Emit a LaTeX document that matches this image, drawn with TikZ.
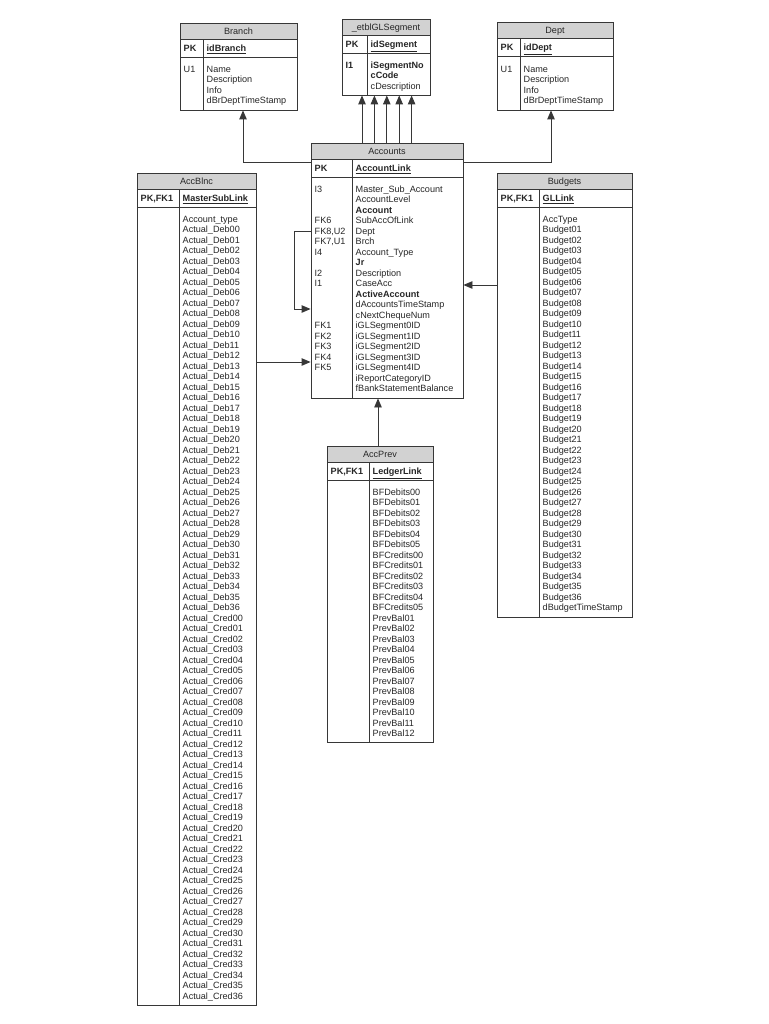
\documentclass[tikz,border=0pt]{standalone}
\usepackage{fontspec}
\setmainfont{Liberation Sans}
\usetikzlibrary{arrows.meta,fit}
\definecolor{titlegray}{RGB}{210,210,210}
\definecolor{linec}{RGB}{55,55,55}
\tikzset{
  line/.style={draw=linec, line width=0.8pt},
  boxline/.style={draw=linec, line width=0.9pt},
  txt/.style={inner sep=0pt, font=\fontsize{9.1}{10.5}\selectfont, text=black!85},
  fld/.style={txt, anchor=base west},
  ttl/.style={txt, anchor=base},
  arr/.style={draw=linec, line width=0.9pt, -{Triangle[length=9pt,width=7.5pt]}},
}
% #1 name #2 left #3 top #4 right #5 bottom #6 divider #7 title #8 pk label #9 pk field
\newcommand\ertable[9]{%
  \fill[titlegray] (#2,#3) rectangle (#4,#3+16.5);
  \draw[line] (#2,#3+16.5) -- (#4,#3+16.5);
  \draw[line, line width=1.1pt] (#2,#3+34.5) -- (#4,#3+34.5);
  \draw[line] (#6,#3+16.5) -- (#6,#5);
  \node[fit={(#2,#3) (#4,#5)}, inner sep=0pt, boxline] (#1) {};
  \node[ttl] (#1-title) at ({(#2+#4)/2},#3+11.8) {#7};
  \node[fld] (#1-pk) at (#2+3.5,#3+28.8) {\textbf{#8}};
  \node[fld] (#1-pkf) at (#6+3.5,#3+28.8) {\textbf{\underline{#9}}};
}
\begin{document}
\begin{tikzpicture}[x=1pt,y=-1pt]
\useasboundingbox[fill=white] (0,0) rectangle (768,1024);

% ---------- Branch ----------
\ertable{branch}{180}{23}{297}{110}{203}{Branch}{PK}{idBranch}
\node[fld] (branch-k0) at (183.5,72.3) {U1};
\foreach \t [count=\i from 0] in {Name,Description,Info,dBrDeptTimeStamp}
  \node[fld] (branch-f\i) at (206.5,{72.3+10.5*\i}) {\t};

% ---------- _etblGLSegment ----------
\ertable{gls}{342}{19}{430}{95}{367}{\_etblGLSegment}{PK}{idSegment}
\node[fld] (gls-k0) at (345.5,68.3) {\textbf{I1}};
\node[fld] (gls-f0) at (370.5,68.3) {\textbf{iSegmentNo}};
\node[fld] (gls-f1) at (370.5,78.8) {\textbf{cCode}};
\node[fld] (gls-f2) at (370.5,89.3) {cDescription};

% ---------- Dept ----------
\ertable{dept}{497}{22}{613}{110}{520}{Dept}{PK}{idDept}
\node[fld] (dept-k0) at (500.5,72.3) {U1};
\foreach \t [count=\i from 0] in {Name,Description,Info,dBrDeptTimeStamp}
  \node[fld] (dept-f\i) at (523.5,{72.3+10.5*\i}) {\t};

% ---------- Accounts ----------
\ertable{acc}{311}{143}{463}{398}{352}{Accounts}{PK}{AccountLink}
\foreach \t [count=\i from 0] in {Master\_Sub\_Account,AccountLevel,\textbf{Account},SubAccOfLink,Dept,Brch,Account\_Type,\textbf{Jr},Description,CaseAcc,\textbf{ActiveAccount},dAccountsTimeStamp,cNextChequeNum,iGLSegment0ID,iGLSegment1ID,iGLSegment2ID,iGLSegment3ID,iGLSegment4ID,iReportCategoryID,fBankStatementBalance}
  \node[fld] (acc-f\i) at (355.5,{192.3+10.5*\i}) {\t};
\foreach \r/\k in {0/I3,3/FK6,4/{FK8,U2},5/{FK7,U1},6/I4,8/I2,9/I1,13/FK1,14/FK2,15/FK3,16/FK4,17/FK5}
  \node[fld] (acc-k\r) at (314.5,{192.3+10.5*\r}) {\k};

% ---------- AccBlnc ----------
\ertable{blnc}{137}{173}{256}{1005.5}{179}{AccBlnc}{PK,FK1}{MasterSubLink}
\node[fld] (blnc-f0) at (182.5,222.3) {Account\_type};
\foreach \n in {0,...,36}
  \node[fld] (blnc-d\n) at (182.5,{222.3+10.5*(\n+1)}) {Actual\_Deb\ifnum\n<10 0\fi\n};
\foreach \n in {0,...,36}
  \node[fld] (blnc-c\n) at (182.5,{222.3+10.5*(\n+38)}) {Actual\_Cred\ifnum\n<10 0\fi\n};

% ---------- Budgets ----------
\ertable{budg}{497}{173}{632}{617}{539}{Budgets}{PK,FK1}{GLLink}
\node[fld] (budg-f0) at (542.5,222.3) {AccType};
\foreach \n in {1,...,36}
  \node[fld] (budg-b\n) at (542.5,{222.3+10.5*\n}) {Budget\ifnum\n<10 0\fi\n};
\node[fld] (budg-ts) at (542.5,{222.3+10.5*37}) {dBudgetTimeStamp};

% ---------- AccPrev ----------
\ertable{prev}{327}{446}{433}{742}{369}{AccPrev}{PK,FK1}{LedgerLink}
\foreach \n in {0,...,5}
  \node[fld] (prev-d\n) at (372.5,{495.3+10.5*\n}) {BFDebits0\n};
\foreach \n in {0,...,5}
  \node[fld] (prev-c\n) at (372.5,{495.3+10.5*(\n+6)}) {BFCredits0\n};
\foreach \n in {1,...,12}
  \node[fld] (prev-p\n) at (372.5,{495.3+10.5*(\n+11)}) {PrevBal\ifnum\n<10 0\fi\n};

% ---------- Connectors ----------
\draw[arr] (acc.west |- 0,162) -| (branch.south -| 243,0);
\draw[arr] (acc.east |- 0,162) -| (dept.south -| 551,0);
\foreach \xx in {362,374.4,386.8,399.2,411.6}
  \draw[arr] (acc.north -| \xx,0) -- (gls.south -| \xx,0);
\draw[arr] (acc.west |- 0,231) -- (294,231) |- (acc.west |- 0,309);
\draw[arr] (blnc.east |- 0,362) -- (acc.west |- 0,362);
\draw[arr] (budg.west |- 0,285) -- (acc.east |- 0,285);
\draw[arr] (prev.north -| 378,0) -- (acc.south -| 378,0);
\end{tikzpicture}
\end{document}
